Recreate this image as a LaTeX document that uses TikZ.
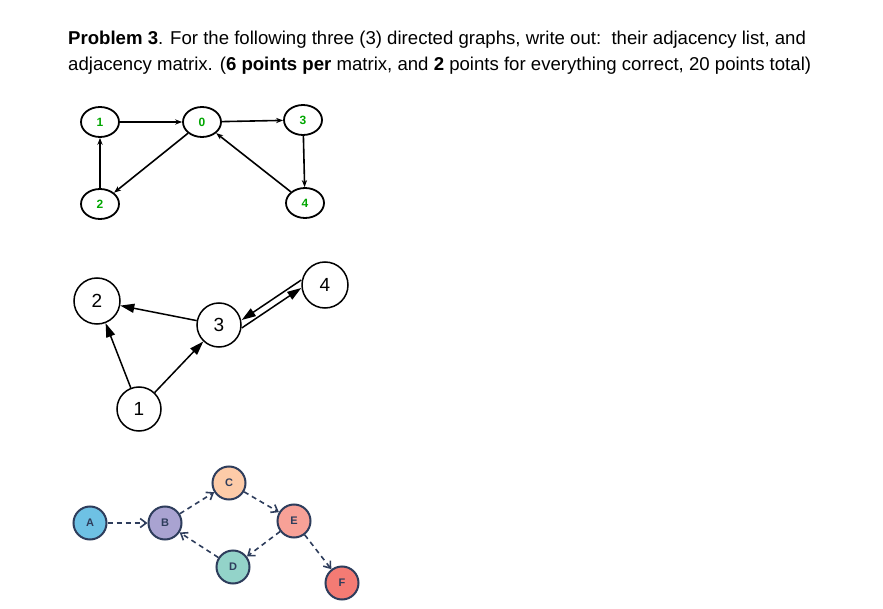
\documentclass[tikz,border=0pt]{standalone}
\usepackage{fontspec}
\setmainfont{Liberation Sans}
\usetikzlibrary{arrows.meta,shapes.geometric}
\definecolor{cA}{HTML}{6EC1E4}
\definecolor{cB}{HTML}{A9A3D1}
\definecolor{cC}{HTML}{FDCBA8}
\definecolor{cD}{HTML}{93D3C9}
\definecolor{cE}{HTML}{F8A197}
\definecolor{cF}{HTML}{F47B74}
\definecolor{ink}{HTML}{2E3D5C}
\begin{document}
\begin{tikzpicture}[x=1pt,y=-1pt,
  ga/.style={draw,line width=1.8pt,ellipse,minimum width=38pt,minimum height=30pt,inner sep=0pt,font=\bfseries\fontsize{12}{12}\selectfont,text=green!65!black},
  ge/.style={-{Stealth[length=7pt]},line width=1.6pt},
  gb/.style={draw,line width=1.5pt,circle,minimum size=46pt,inner sep=0pt,font=\fontsize{19}{19}\selectfont},
  be/.style={-{Triangle[length=14pt,width=9pt]},line width=1.5pt},
  gc/.style={draw=ink,line width=2pt,circle,minimum size=33pt,inner sep=0pt,font=\bfseries\fontsize{11}{11}\selectfont,text=ink},
  ce/.style={-{Straight Barb[length=6pt,width=9pt]},dash pattern=on 5pt off 4pt,line width=1.6pt,draw=ink}]
\useasboundingbox (0,0) rectangle (883,609);
\node[anchor=west,inner sep=0pt,font=\fontsize{18.6}{22}\selectfont] (t1) at (68,40) {\textbf{Problem 3}. For the following three (3) directed graphs, write out:\ \ their adjacency list, and};
\node[anchor=west,inner sep=0pt,font=\fontsize{18.6}{22}\selectfont] (t2) at (68,66) {adjacency matrix. (\textbf{6 points per} matrix, and \textbf{2} points for everything correct, 20 points total)};
% graph 1
\node[ga] (a1) at (100,122) {1};
\node[ga] (a0) at (202,122) {0};
\node[ga] (a3) at (303,120) {3};
\node[ga] (a2) at (100,204) {2};
\node[ga] (a4) at (305,203) {4};
\draw[ge] (a1)--(a0); \draw[ge] (a0)--(a3); \draw[ge] (a3)--(a4);
\draw[ge] (a4)--(a0); \draw[ge] (a0)--(a2); \draw[ge] (a2)--(a1);
% graph 2
\node[gb] (b2) at (97,301) {2};
\node[gb,minimum size=44pt] (b3) at (219,325) {3};
\node[gb] (b4) at (325,285) {4};
\node[gb,minimum size=44pt] (b1) at (139,409) {1};
\draw[be] (b1)--(b2); \draw[be] (b1)--(b3); \draw[be] (b3)--(b2);
\draw[be] ([yshift=-3pt]b3.east)--([yshift=-3pt]b4.west);
\draw[be] ([yshift=5pt]b4.west)--([yshift=5pt]b3.east);
% graph 3
\node[gc,fill=cA] (nA) at (90,523) {A};
\node[gc,fill=cB] (nB) at (165,523) {B};
\node[gc,fill=cC] (nC) at (229,483) {C};
\node[gc,fill=cE] (nE) at (294,521) {E};
\node[gc,fill=cD] (nD) at (233,567) {D};
\node[gc,fill=cF] (nF) at (342,583) {F};
\draw[ce] (nA)--(nB); \draw[ce] (nB)--(nC); \draw[ce] (nC)--(nE);
\draw[ce] (nE)--(nD); \draw[ce] (nD)--(nB); \draw[ce] (nE)--(nF);
\end{tikzpicture}
\end{document}
